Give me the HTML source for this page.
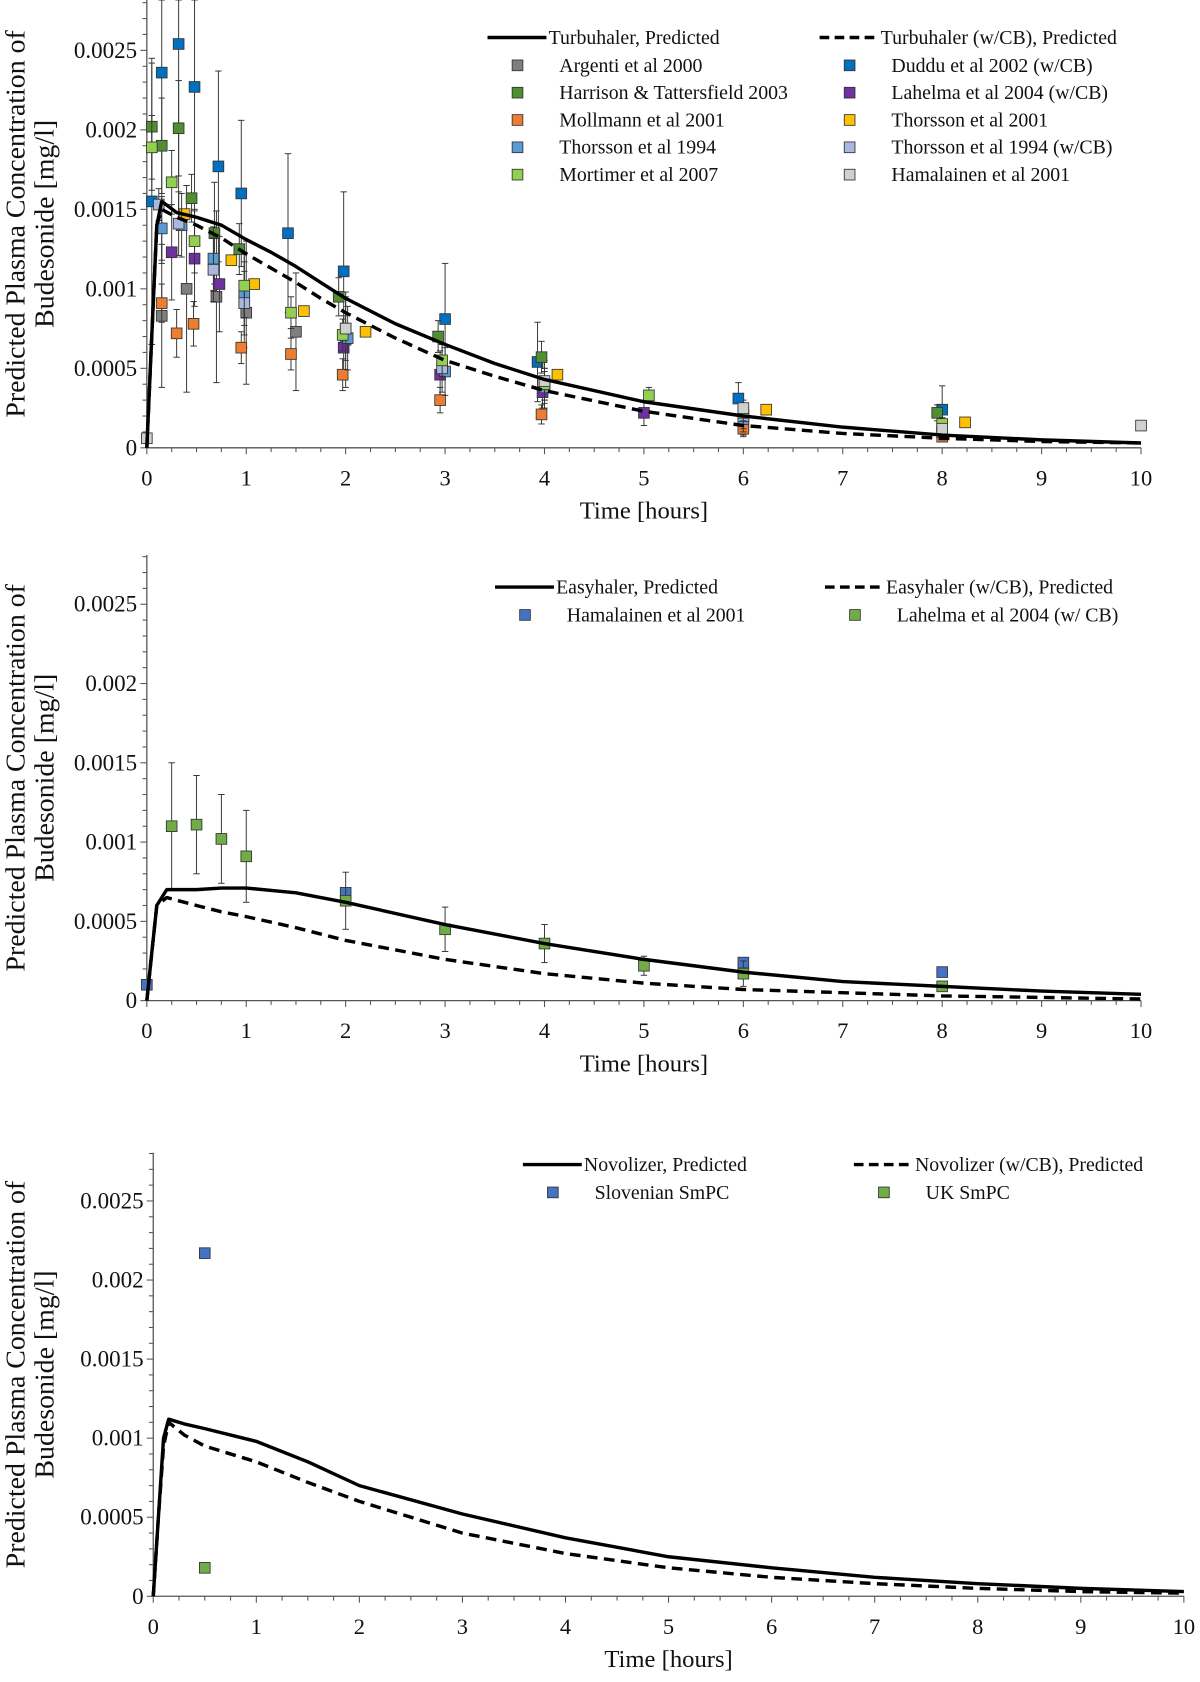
<!DOCTYPE html>
<html><head><meta charset="utf-8">
<style>
html,body{margin:0;padding:0;background:#fff;}
svg{display:block;font-family:"Liberation Serif",serif;}
</style></head>
<body>
<svg id="fig" width="1200" height="1682" viewBox="0 0 1120 1570" xmlns="http://www.w3.org/2000/svg"></svg>
<script>
// ---------- data ----------
const xTicks = [0,1,2,3,4,5,6,7,8,9,10];
const yTicks = [0,0.0005,0.001,0.0015,0.002,0.0025];
const yTickLabels = ["0","0.0005","0.001","0.0015","0.002","0.0025"];

// Panel 1 - Turbuhaler
const turbuT = [0,0.05,0.1,0.15,0.3,0.5,0.75,1,1.25,1.5,1.75,2,2.5,3,3.5,4,5,6,7,8,9,10];
const turbuPred = [0,0.0007,0.0014,0.00155,0.00148,0.00145,0.0014,0.00131,0.00123,0.00114,0.00104,0.00094,0.00078,0.00065,0.00053,0.00043,0.00029,0.0002,0.00013,0.00008,0.00005,0.00003];
const turbuCBPred = [0,0.0007,0.0014,0.0015,0.00145,0.0014,0.00132,0.00122,0.00113,0.00104,0.00094,0.00085,0.00069,0.00055,0.00045,0.00036,0.00023,0.00014,0.00009,0.00006,0.00004,0.00003];

const argenti = [[0.15,0.00083,0.00045],[0.4,0.001,0.00065],[0.7,0.00095,0.00054],[1,0.00085,0.00045],[1.5,0.00073,0.00037],[2,0.00068,0.0003],[4,0.0004,0.00015],[6,0.0002,0.0001],[8,0.0001,0.00005]];
const duddu = [[0.05,0.00155,0.0009],[0.15,0.00236,0.0012],[0.32,0.00254,0.0011],[0.48,0.00227,0.001],[0.72,0.00177,0.0006],[0.95,0.0016,0.00046],[1.42,0.00135,0.0005],[1.98,0.00111,0.0005],[3,0.00081,0.00035],[3.93,0.00054,0.00025],[5.95,0.00031,0.0001],[8,0.00024,0.00015]];
const harrison = [[0.05,0.00202,0.0004],[0.15,0.0019,0.0003],[0.32,0.00201,0.0003],[0.45,0.00157,0.00015],[0.68,0.00135,0.00032],[0.93,0.00125,0.00016],[1.93,0.00095,0.00012],[2.93,0.0007,0.0001],[3.97,0.00057,0.0001],[7.95,0.00022,0.00005]];
const lahelmaCB = [[0.25,0.00123,0.0003],[0.48,0.00119,0.0003],[0.73,0.00103,0.0003],[0.98,0.00093,0.0003],[1.98,0.00063,0.0002],[2.95,0.00046,0.00015],[3.98,0.00035,0.0001],[5,0.00022,0.00008],[6,0.00014,0.00007],[8,0.0001,0.00004]];
const mollmann = [[0.15,0.00091,0.00012],[0.3,0.00072,0.00015],[0.47,0.00078,0.00014],[0.95,0.00063,0.0001],[1.45,0.00059,0.0001],[1.97,0.00046,0.0001],[2.95,0.0003,0.00008],[3.97,0.00021,0.00006],[6,0.00012,0.00004],[8,0.00007,0.00003]];
const thorsson2001 = [[0.38,0.00147,0],[0.85,0.00118,0],[1.08,0.00103,0],[1.58,0.00086,0],[2.2,0.00073,0],[4.13,0.00046,0],[6.23,0.00024,0],[8.23,0.00016,0]];
const thorsson1994 = [[0.15,0.00138,0.0002],[0.35,0.0014,0.0002],[0.67,0.00119,0.0002],[0.98,0.00097,0.0002],[2.02,0.00069,0.0002],[3,0.00048,0.00015],[4,0.00038,0.0001],[6,0.00018,0.00008],[8,0.0001,0.00005]];
const thorsson1994CB = [[0.12,0.00153,0.0001],[0.32,0.00141,0.0002],[0.67,0.00112,0.0002],[0.98,0.00091,0.0002],[2,0.00075,0.0002],[2.97,0.0005,0.00015],[4,0.0004,0.0001],[6,0.0002,0.00008],[8,0.00013,0.00005]];
const mortimer = [[0.05,0.00189,0.0002],[0.25,0.00167,0.0002],[0.48,0.0013,0.0002],[0.98,0.00102,0.0002],[1.45,0.00085,0.0001],[1.97,0.00071,0.0001],[2.97,0.00055,0.0001],[4,0.0004,0.0001],[5.05,0.00033,0.00005],[6,0.00022,0.00005],[8,0.00015,0.00004]];
const hamalainenT = [[0,0.00006,0],[2,0.00075,0],[4,0.00042,0],[6,0.00025,0],[8,0.00012,0],[10,0.00014,0]];

// Panel 2 - Easyhaler
const easyT = [0,0.05,0.1,0.2,0.5,0.75,1,1.5,2,3,4,5,6,7,8,9,10];
const easyPred = [0,0.0003,0.0006,0.0007,0.0007,0.00071,0.00071,0.00068,0.00062,0.00048,0.00036,0.00026,0.00018,0.00012,0.00009,0.00006,0.00004];
const easyCBPred = [0,0.0003,0.0006,0.00065,0.0006,0.00056,0.00053,0.00046,0.00038,0.00026,0.00017,0.00011,0.00007,0.00005,0.00003,0.00002,0.00001];
const hamalainenE = [[0,0.0001,0],[2,0.00068,0],[6,0.00024,0],[8,0.00018,0]];
const lahelmaE = [[0.25,0.0011,0.0004],[0.5,0.00111,0.00031],[0.75,0.00102,0.00028],[1,0.00091,0.00029],[2,0.00063,0.00018],[3,0.00045,0.00014],[4,0.00036,0.00012],[5,0.00022,0.00006],[6,0.00017,0.00008],[8,0.00009,0.00002]];

// Panel 3 - Novolizer
const novoT = [0,0.05,0.1,0.15,0.3,0.5,1,1.5,2,3,4,5,6,7,8,9,10];
const novoPred = [0,0.0005,0.001,0.00112,0.00109,0.00106,0.00098,0.00085,0.0007,0.00052,0.00037,0.00025,0.00018,0.00012,0.00008,0.00005,0.00003];
const novoCBPred = [0,0.0005,0.00095,0.0011,0.00102,0.00095,0.00085,0.00072,0.0006,0.0004,0.00027,0.00018,0.00012,0.00008,0.00005,0.00003,0.00002];
const slovenian = [[0.5,0.00217,0]];
const ukSmpc = [[0.5,0.00018,0]];

// ---------- drawing ----------
const NS = "http://www.w3.org/2000/svg";
const svg = document.getElementById('fig');
function mk(tag, attrs, parent){ const e=document.createElementNS(NS,tag); for(const k in attrs) e.setAttribute(k,attrs[k]); (parent||svg).appendChild(e); return e; }

function drawPanel(p){
  const g = mk('g',{});
  
  
  const sx = v => p.x0 + (p.x1 - p.x0) * v / 10;
  const sy = v => p.y0 - (p.y0 - p.y25) * v / 0.0025;
  const yax = mk('line',{x1:p.x0,y1:p.top,x2:p.x0,y2:p.y0,stroke:'#555','stroke-width':1.2},g);
   
  const xax = mk('line',{x1:p.x0,y1:p.y0,x2:p.x1,y2:p.y0,stroke:'#555','stroke-width':1.2},g);
   
  for(let i=0;i<=40;i++){ const v=i*0.25, x=sx(v); const maj=(i%4===0);
    mk('line',{x1:x,y1:p.y0,x2:x,y2:p.y0+(maj?6:4),stroke:'#555','stroke-width':1},g); }
  for(let i=0;i<=40;i++){ const y=sy(i*0.0001); if(y<p.top-1) break;
    mk('line',{x1:p.x0-(i%5===0?6:4),y1:y,x2:p.x0,y2:y,stroke:'#555','stroke-width':1},g); }
  xTicks.forEach(v=>{ const t=mk('text',{x:sx(v),y:p.y0+35,'font-size':21,'text-anchor':'middle',fill:'#111'},g); t.textContent=v;
      });
  yTicks.forEach((v,i)=>{ const t=mk('text',{x:p.x0-9,y:sy(v)+7,'font-size':21.5,'text-anchor':'end',fill:'#111'},g); t.textContent=yTickLabels[i];
      });
  const xt=mk('text',{x:(p.x0+p.x1)/2,y:p.y0+66,'font-size':23,'text-anchor':'middle',fill:'#111'},g); xt.textContent='Time [hours]';
   
  const cy=(p.top+p.y0)/2;
  const yt=mk('text',{transform:`translate(23,${cy}) rotate(-90)`,'font-size':26,'text-anchor':'middle',fill:'#111'},g);
   
  const ts1=mk('tspan',{x:0,dy:0},yt); ts1.textContent='Predicted Plasma Concentration of';
  const ts2=mk('tspan',{x:0,dy:27},yt); ts2.textContent='Budesonide [mg/l]';
  p.series.forEach(s=>{
    const sg=mk('g',{},g);
     
    s.data.forEach(d=>{ if(d[2]>0){ const x=sx(d[0]);
      const yt1=Math.max(sy(d[1]+d[2]),p.top), yb=sy(Math.max(d[1]-d[2],0));
      mk('line',{x1:x,y1:yt1,x2:x,y2:yb,stroke:'#333','stroke-width':0.9},sg);
      mk('line',{x1:x-3,y1:yt1,x2:x+3,y2:yt1,stroke:'#333','stroke-width':0.9},sg);
      mk('line',{x1:x-3,y1:yb,x2:x+3,y2:yb,stroke:'#333','stroke-width':0.9},sg);} });
    s.data.forEach(d=>{ const r=mk('rect',{x:sx(d[0])-5,y:sy(d[1])-5,width:10,height:10,fill:s.color,stroke:'#333','stroke-width':0.8},sg);
        });
  });
  const mkLine=(T,V,dash,name)=>{ const d=T.map((t,i)=>(i?'L':'M')+sx(t).toFixed(1)+','+sy(V[i]).toFixed(1)).join(' ');
    const l=mk('path',{d:d,fill:'none',stroke:'#000','stroke-width':3.2,'stroke-dasharray':dash?'10,6':'none','stroke-linejoin':'round'},g);
      };
  mkLine(p.T,p.pred,false,'predicted-line');
  mkLine(p.T,p.predCB,true,'predicted-cb-line');
  const L=p.leg;
  const lg=mk('g',{},g);  
  mk('line',{x1:L.c1,y1:L.y,x2:L.c1+55,y2:L.y,stroke:'#000','stroke-width':3.2},lg);
  const t1=mk('text',{x:L.c1+57,y:L.y+6,'font-size':18.5,fill:'#111'},lg); t1.textContent=p.labels[0];
   
  mk('line',{x1:L.c2,y1:L.y,x2:L.c2+55,y2:L.y,stroke:'#000','stroke-width':3.2,'stroke-dasharray':'9,5'},lg);
  const t2=mk('text',{x:L.c2+57,y:L.y+6,'font-size':18.5,fill:'#111'},lg); t2.textContent=p.labels[1];
   
  p.series.forEach((s,i)=>{ const col=i%2, row=Math.floor(i/2); const bx=(col?L.c2:L.c1)+28, by=L.y+26+row*25.5;
    mk('rect',{x:bx-5,y:by-5,width:10,height:10,fill:s.color,stroke:'#333','stroke-width':0.8},lg);
    const t=mk('text',{x:bx+39,y:by+6,'font-size':18.5,fill:'#111'},lg); t.textContent=s.label;
      });
}

drawPanel({name:'turbuhaler-chart',x0:137,x1:1065,y0:418,y25:47,top:0,T:turbuT,pred:turbuPred,predCB:turbuCBPred,
  labels:['Turbuhaler, Predicted','Turbuhaler (w/CB), Predicted'],leg:{c1:455,c2:765,y:35},
  series:[
    {key:'argenti',label:'Argenti et al 2000',color:'#7f7f7f',data:argenti},
    {key:'duddu',label:'Duddu et al 2002 (w/CB)',color:'#0070c0',data:duddu},
    {key:'harrison',label:'Harrison & Tattersfield 2003',color:'#4f8f32',data:harrison},
    {key:'lahelma',label:'Lahelma et al 2004 (w/CB)',color:'#7030a0',data:lahelmaCB},
    {key:'mollmann',label:'Mollmann et al 2001',color:'#ed7d31',data:mollmann},
    {key:'thorsson2001',label:'Thorsson et al 2001',color:'#ffc000',data:thorsson2001},
    {key:'thorsson1994',label:'Thorsson et al 1994',color:'#5b9bd5',data:thorsson1994},
    {key:'thorsson1994cb',label:'Thorsson et al 1994 (w/CB)',color:'#a9b8e0',data:thorsson1994CB},
    {key:'mortimer',label:'Mortimer et al 2007',color:'#92d050',data:mortimer},
    {key:'hamalainen',label:'Hamalainen et al 2001',color:'#d0d0d0',data:hamalainenT}
  ]});
drawPanel({name:'easyhaler-chart',x0:137,x1:1065,y0:934,y25:564,top:518,T:easyT,pred:easyPred,predCB:easyCBPred,
  labels:['Easyhaler, Predicted','Easyhaler (w/CB), Predicted'],leg:{c1:462,c2:770,y:548},
  series:[
    {key:'hamalainen',label:'Hamalainen et al 2001',color:'#4472c4',data:hamalainenE},
    {key:'lahelma',label:'Lahelma et al 2004 (w/ CB)',color:'#70ad47',data:lahelmaE}
  ]});
drawPanel({name:'novolizer-chart',x0:143,x1:1105,y0:1490,y25:1121,top:1076,T:novoT,pred:novoPred,predCB:novoCBPred,
  labels:['Novolizer, Predicted','Novolizer (w/CB), Predicted'],leg:{c1:488,c2:797,y:1087},
  series:[
    {key:'slovenian',label:'Slovenian SmPC',color:'#4472c4',data:slovenian},
    {key:'uk',label:'UK SmPC',color:'#70ad47',data:ukSmpc}
  ]});
</script>
</body></html>
